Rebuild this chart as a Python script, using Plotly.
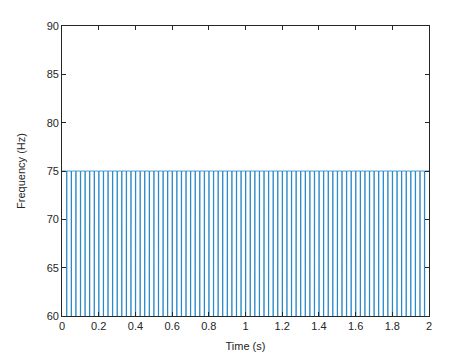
import plotly.graph_objects as go

# Data: the frequency stays at 75 Hz and drops out briefly at regular instants
pulse_times = [0.025, 0.050, 0.075, 0.100, 0.125, 0.150, 0.175, 0.200, 0.225, 0.250,
               0.275, 0.300, 0.325, 0.350, 0.375, 0.400, 0.425, 0.450, 0.475, 0.500,
               0.525, 0.550, 0.575, 0.600, 0.625, 0.650, 0.675, 0.700, 0.725, 0.750,
               0.775, 0.800, 0.825, 0.850, 0.875, 0.900, 0.925, 0.950, 0.975, 1.000,
               1.025, 1.050, 1.075, 1.100, 1.125, 1.150, 1.175, 1.200, 1.225, 1.250,
               1.275, 1.300, 1.325, 1.350, 1.375, 1.400, 1.425, 1.450, 1.475, 1.500,
               1.525, 1.550, 1.575, 1.600, 1.625, 1.650, 1.675, 1.700, 1.725, 1.750,
               1.775, 1.800, 1.825, 1.850, 1.875, 1.900, 1.925, 1.950, 1.975]
pulse_width = 0.002
high_freq = 75
low_freq = 0
t_start, t_end = 0.0, 2.0

x_ticks = [0, 0.2, 0.4, 0.6, 0.8, 1, 1.2, 1.4, 1.6, 1.8, 2]
x_tick_labels = ["0", "0.2", "0.4", "0.6", "0.8", "1", "1.2", "1.4", "1.6", "1.8", "2"]
y_ticks = [60, 65, 70, 75, 80, 85, 90]

xs = [t_start]
ys = [high_freq]
for t in pulse_times:
    xs += [t, t, t + pulse_width, t + pulse_width]
    ys += [high_freq, low_freq, low_freq, high_freq]
xs.append(t_end)
ys.append(high_freq)

font_family = "Liberation Sans, Arial, Helvetica, sans-serif"
text_color = "rgb(38,38,38)"

fig = go.Figure()
fig.add_trace(go.Scatter(x=xs, y=ys, mode="lines",
                         line=dict(color="rgb(0,114,189)", width=0.7),
                         hoverinfo="skip", showlegend=False))

axis_common = dict(showline=True, mirror="ticks", linecolor=text_color, linewidth=0.8,
                   ticks="inside", ticklen=4, tickcolor=text_color,
                   showgrid=False, zeroline=False, automargin=False,
                   tickfont=dict(family=font_family, size=11, color=text_color))

fig.update_layout(
    width=474, height=355,
    margin=dict(l=62, r=45, t=26, b=39),
    paper_bgcolor="white", plot_bgcolor="white",
    xaxis=dict(range=[0, 2], tickvals=x_ticks, ticktext=x_tick_labels,
               title=dict(text="Time (s)", standoff=11,
                          font=dict(family=font_family, size=11, color=text_color)),
               **axis_common),
    yaxis=dict(range=[60, 90], tickvals=y_ticks,
               title=dict(text="Frequency (Hz)", standoff=18,
                          font=dict(family=font_family, size=11, color=text_color)),
               **axis_common),
)

fig.write_html("out.html")
